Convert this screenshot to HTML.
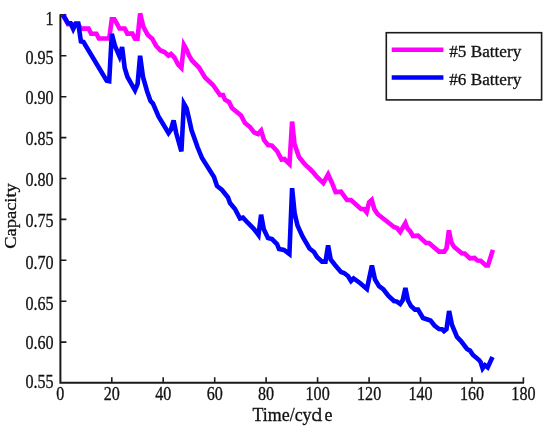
<!DOCTYPE html>
<html><head><meta charset="utf-8"><title>Capacity vs Time/cycle</title>
<style>html,body{margin:0;padding:0;background:#fff;}body{width:550px;height:434px;position:relative;overflow:hidden;font-family:"Liberation Serif",serif;}</style>
</head><body>
<svg width="550" height="434" viewBox="0 0 550 434" style="position:absolute;left:0;top:0">
<rect width="550" height="434" fill="#fff"/>
<path d="M60.4 14.2 V382.7 H524.05" fill="none" stroke="#1a1a1a" stroke-width="2"/>
<path d="M111.8 382.7 v-5.5 M163.2 382.7 v-5.5 M214.7 382.7 v-5.5 M266.1 382.7 v-5.5 M317.6 382.7 v-5.5 M369.1 382.7 v-5.5 M420.5 382.7 v-5.5 M472.0 382.7 v-5.5 M523.4 382.7 v-5.5 M60.4 14.9 h6 M60.4 55.8 h6 M60.4 96.7 h6 M60.4 137.6 h6 M60.4 178.5 h6 M60.4 219.4 h6 M60.4 260.3 h6 M60.4 301.2 h6 M60.4 342.1 h6" fill="none" stroke="#1a1a1a" stroke-width="1.6"/>
<polyline points="62.9,14.9 65.5,19.4 68.0,24.2 78.3,24.2 80.9,28.6 88.6,28.6 91.2,33.7 96.4,33.7 98.9,38.5 109.2,38.5 111.8,19.3 114.4,19.3 116.9,23.5 119.5,28.5 124.7,28.5 127.3,33.6 132.4,33.6 135.0,38.7 137.5,38.7 140.1,13.4 143.3,26.6 147.7,34.9 152.2,38.7 156.0,45.7 160.5,50.5 164.5,52.0 168.5,55.6 171.0,54.0 174.5,57.5 178.0,64.5 181.4,68.0 183.9,44.9 186.5,49.5 189.0,55.5 192.0,60.5 199.0,67.5 205.0,77.5 213.0,85.0 220.0,95.0 223.0,95.0 225.0,99.6 229.0,102.0 232.0,108.0 241.0,115.5 245.0,123.0 250.0,127.0 254.0,132.4 258.0,134.0 261.1,130.6 264.0,140.0 268.0,145.0 272.0,145.6 277.0,151.0 281.6,159.6 284.4,159.0 289.5,164.0 292.1,121.6 294.5,144.0 299.0,157.0 303.0,162.0 306.0,165.5 310.0,169.0 313.0,172.0 317.0,177.0 323.3,183.0 328.1,174.3 332.0,183.0 335.6,192.0 341.0,191.6 347.0,200.0 351.0,200.0 361.0,209.0 364.0,209.0 366.6,212.2 369.1,202.3 371.7,200.0 374.3,209.0 377.5,214.0 394.0,227.0 397.0,228.0 400.2,232.0 405.4,223.0 407.5,228.5 410.0,231.0 413.0,236.0 418.0,235.6 426.0,243.0 429.0,243.0 439.0,251.6 444.3,251.6 446.5,248.4 448.9,230.4 451.3,242.2 454.0,246.8 461.8,253.2 464.6,253.5 470.0,258.4 474.6,258.0 477.5,260.6 480.7,260.7 485.8,265.4 488.0,265.4 492.9,249.9" fill="none" stroke="#ff00ff" stroke-width="4.6" stroke-linejoin="miter" stroke-miterlimit="4"/>
<polyline points="62.9,14.9 65.5,19.0 68.0,23.3 70.6,23.3 73.2,29.0 75.8,23.5 78.3,23.5 80.9,41.3 83.5,42.0 106.7,80.8 109.2,81.3 111.8,33.9 115.0,46.0 119.5,56.3 122.1,47.0 124.7,68.0 127.5,77.0 135.0,90.3 137.6,84.0 140.1,55.8 143.0,77.0 147.0,91.0 150.5,101.0 153.0,103.5 158.5,116.5 168.5,133.0 171.0,129.5 173.6,120.5 176.2,133.0 181.4,151.5 183.9,103.5 186.5,108.0 189.0,118.5 191.5,130.0 197.5,147.0 202.0,158.0 214.0,177.0 217.0,186.0 222.0,190.0 228.0,197.5 230.0,203.0 235.0,209.0 240.0,218.5 243.0,217.6 248.0,223.0 254.0,229.0 258.5,235.0 261.1,214.7 263.7,229.0 268.0,238.0 272.0,239.0 277.0,244.0 279.0,249.0 284.0,250.0 289.4,254.0 292.1,188.2 294.6,213.0 297.5,225.5 302.5,236.5 309.5,248.5 314.0,252.0 317.0,257.0 322.0,261.6 325.5,261.6 328.1,245.3 330.7,259.5 335.0,265.0 341.0,272.0 344.0,273.0 348.0,276.0 351.0,281.0 353.6,278.4 360.0,283.0 366.9,289.0 371.9,265.5 375.0,279.5 379.0,286.2 383.5,289.5 388.5,296.0 394.0,301.0 397.0,301.6 400.2,304.0 402.8,300.0 405.4,288.0 408.0,300.5 411.0,306.0 415.0,309.6 418.0,309.6 423.0,318.0 426.0,319.0 430.5,320.5 434.5,325.5 439.0,329.0 442.0,329.2 444.0,331.2 446.5,329.0 449.1,311.0 452.0,325.0 457.0,337.0 461.0,341.0 467.0,349.0 470.0,350.6 473.0,355.0 479.0,360.0 480.6,362.0 482.6,368.4 484.9,365.2 487.7,367.4 492.5,357.0" fill="none" stroke="#0000ff" stroke-width="4.6" stroke-linejoin="miter" stroke-miterlimit="4"/>
<rect x="386.3" y="32.7" width="155.3" height="67.2" fill="#fff" stroke="#1a1a1a" stroke-width="1.6"/>
<path d="M391.7 49.8 H443.4" stroke="#ff00ff" stroke-width="4.6"/>
<path d="M391.7 77.5 H443.4" stroke="#0000ff" stroke-width="4.6"/>
<g font-family="'Liberation Serif', serif" fill="#111" stroke="#111" stroke-width="0.3">
<text x="449.2" y="57.4" font-size="17.2">#5 Battery</text>
<text x="449.2" y="85.2" font-size="17.2">#6 Battery</text>
<text transform="translate(53.6 24.9) scale(0.905 1)" font-size="17.8" text-anchor="end">1</text>
<text transform="translate(53.6 63.8) scale(0.905 1)" font-size="17.8" text-anchor="end">0.95</text>
<text transform="translate(53.6 104.1) scale(0.905 1)" font-size="17.8" text-anchor="end">0.90</text>
<text transform="translate(53.6 144.8) scale(0.905 1)" font-size="17.8" text-anchor="end">0.85</text>
<text transform="translate(53.6 185.7) scale(0.905 1)" font-size="17.8" text-anchor="end">0.80</text>
<text transform="translate(53.6 227.4) scale(0.905 1)" font-size="17.8" text-anchor="end">0.75</text>
<text transform="translate(53.6 268.9) scale(0.905 1)" font-size="17.8" text-anchor="end">0.70</text>
<text transform="translate(53.6 309.8) scale(0.905 1)" font-size="17.8" text-anchor="end">0.65</text>
<text transform="translate(53.6 349.2) scale(0.905 1)" font-size="17.8" text-anchor="end">0.60</text>
<text transform="translate(53.6 387.8) scale(0.905 1)" font-size="17.8" text-anchor="end">0.55</text>
<text transform="translate(60.3 400.3) scale(0.905 1)" font-size="17.8" text-anchor="middle">0</text>
<text transform="translate(111.8 400.3) scale(0.905 1)" font-size="17.8" text-anchor="middle">20</text>
<text transform="translate(163.2 400.3) scale(0.905 1)" font-size="17.8" text-anchor="middle">40</text>
<text transform="translate(214.7 400.3) scale(0.905 1)" font-size="17.8" text-anchor="middle">60</text>
<text transform="translate(266.1 400.3) scale(0.905 1)" font-size="17.8" text-anchor="middle">80</text>
<text transform="translate(317.6 400.3) scale(0.905 1)" font-size="17.8" text-anchor="middle">100</text>
<text transform="translate(369.1 400.3) scale(0.905 1)" font-size="17.8" text-anchor="middle">120</text>
<text transform="translate(420.5 400.3) scale(0.905 1)" font-size="17.8" text-anchor="middle">140</text>
<text transform="translate(472.0 400.3) scale(0.905 1)" font-size="17.8" text-anchor="middle">160</text>
<text transform="translate(523.4 400.3) scale(0.905 1)" font-size="17.8" text-anchor="middle">180</text>
<text x="292.5" y="420.6" font-size="17.9" text-anchor="middle">Time/cyc<tspan dx="-2">l</tspan><tspan dx="2">e</tspan></text>
<text transform="translate(16 216) rotate(-90) scale(1.1 1)" font-size="16.8" text-anchor="middle">Capacity</text>
</g></svg>
</body></html>
